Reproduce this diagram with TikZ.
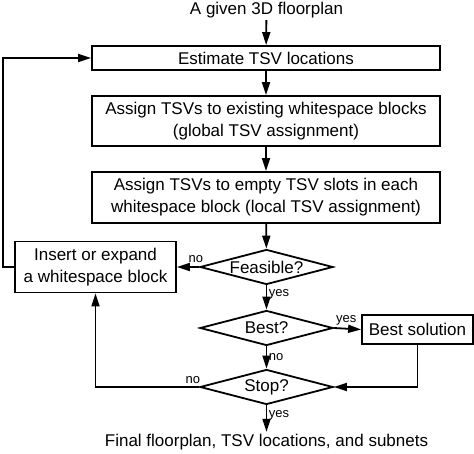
\documentclass[tikz,border=0pt]{standalone}
\usepackage{fontspec}
\setmainfont{Liberation Sans}
\usetikzlibrary{shapes.geometric,arrows.meta}

\tikzset{
  term/.style={inner sep=2pt, font=\fontsize{17}{22}\selectfont},
  box/.style={draw, line width=1.8pt, rectangle, align=center, inner sep=2pt, font=\fontsize{17}{22}\selectfont},
  decision/.style={draw, line width=1.8pt, diamond, aspect=3.8, inner sep=0pt, minimum width=133pt, minimum height=35pt, font=\fontsize{17}{22}\selectfont},
  lbl/.style={font=\fontsize{13}{15}\selectfont, inner sep=1.5pt},
  arr/.style={-{Triangle[length=13pt,width=8pt]}, line width=1.8pt},
}

\begin{document}
\begin{tikzpicture}[x=1pt,y=1pt]
    \useasboundingbox (0,0) rectangle (474,454);

    % Blocchi
    \node[term] (start) at (266.5,444) {A given 3D floorplan};
    \node[box, minimum width=348pt, minimum height=24pt] (est) at (266,396) {Estimate TSV locations};
    \node[box, minimum width=348pt, minimum height=50pt] (glob) at (266,333) {Assign TSVs to existing whitespace blocks\\(global TSV assignment)};
    \node[box, minimum width=348pt, minimum height=51pt] (loc) at (266,256.5) {Assign TSVs to empty TSV slots in each\\whitespace block (local TSV assignment)};
    \node[box, minimum width=161pt, minimum height=51pt] (ins) at (95.5,187) {Insert or expand\\a whitespace block};
    \node[box, minimum width=111pt, minimum height=29pt] (sol) at (417.5,124.5) {Best solution};
    \node[term] (final) at (266.5,12) {Final floorplan, TSV locations, and subnets};

    % Decisioni
    \node[decision] (feas) at (266.5,187) {Feasible?};
    \node[decision] (best) at (266.5,126) {Best?};
    \node[decision] (stop) at (266.5,67) {Stop?};

    \coordinate (back) at (3,187);

    % Frecce verticali
    \draw[arr] (start) -- (est);
    \draw[arr] (est) -- (glob);
    \draw[arr] (glob) -- (loc);
    \draw[arr] (loc) -- (feas);
    \draw[arr] (feas) -- node[lbl, right, pos=0.35] {yes} (best);
    \draw[arr] (best) -- node[lbl, right, pos=0.48] {no} (stop);
    \draw[arr] (stop) -- node[lbl, right, pos=0.38] {yes} (final);

    % Rami laterali
    \draw[arr] (feas.west) -- node[lbl, above=2pt, pos=0.15] {no} (ins.east);
    \draw[arr] (best.east) -- node[lbl, above=1pt, pos=0.45] {yes} (sol.west);
    \draw[arr] (sol.south) |- (stop.east);
    \draw[arr] (stop.west) -| node[lbl, above=1pt, pos=0.03] {no} (ins.south);
    \draw[arr] (ins.west) -- (back) |- (est.west);
\end{tikzpicture}
\end{document}
